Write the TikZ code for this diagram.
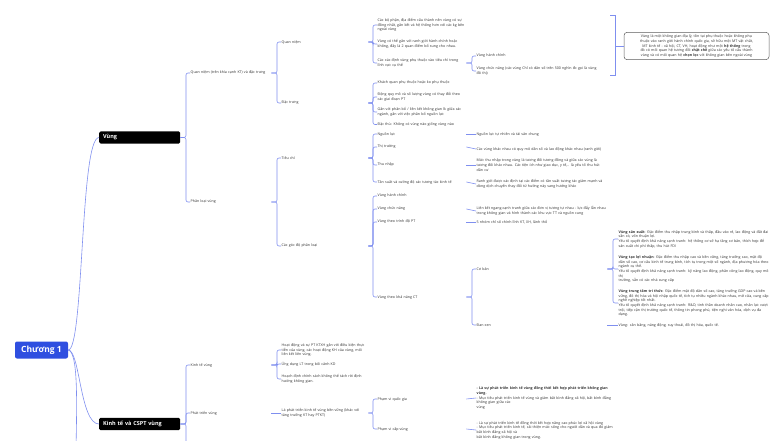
\documentclass[tikz,border=0pt]{standalone}
\usepackage{fontspec}
\setmainfont{Open Sans}
\usetikzlibrary{calc}
\definecolor{lnk}{HTML}{7F8FEF}
\definecolor{txc}{HTML}{333333}
\definecolor{chblue}{HTML}{2F4FE0}
\begin{document}
\begin{tikzpicture}[x=1pt,y=-1pt,
  t/.style={anchor=west,inner sep=0.5pt,align=left,text=txc,font=\fontsize{3.6}{4.6}\selectfont},
  tw/.style={t,text width=#1},
  br/.style={draw=lnk,line width=0.6pt,rounded corners=2pt},
  hd/.style={anchor=west,fill=black,rounded corners=1.5pt,text=white,minimum height=11pt,text width=73pt,inner xsep=4pt,font=\fontsize{5.5}{6}\selectfont\bfseries}]
\useasboundingbox (0,0) rectangle (784,441);
% root
\node[fill=chblue,rounded corners=2pt,text=white,minimum width=53pt,minimum height=17pt,inner sep=0pt,font=\fontsize{8.5}{9}\selectfont\bfseries] (ch) at (41.5,350) {Chương 1};
\node[hd] (vung) at (99,137.5) {Vùng};
\node[hd] (kt) at (99,424) {Kinh tế và CSPT vùng};
\coordinate (off1) at (76,448);
\draw[br] (ch.east) .. controls (84,350) and (80,137.5) .. (vung.west);
\draw[br] (ch.east) .. controls (80,350) and (80,424) .. (kt.west);
\draw[br] (ch.east) .. controls (78,352) and (77,400) .. (off1);
% level 2
\node[tw=80pt] (qn) at (190,73) {Quan niệm (trên khía cạnh KT) và đặc trưng};
\node[tw=80pt] (pl) at (190,202) {Phân loại vùng};
\node[tw=80pt] (ktv) at (190,365) {Kinh tế vùng};
\node[tw=80pt] (ptv) at (190,413) {Phát triển vùng};
\coordinate (off2) at (190,460);
\foreach \c in {qn,pl} \draw[br] (\c.west) -- ++(-4,0) |- (vung.east);
\foreach \c in {ktv,ptv} \draw[br] (\c.west) -- ++(-4,0) |- (kt.east);
\draw[br] (off2) -- ++(-4,0) |- (kt.east);
% level 3
\node[tw=86pt] (qnm) at (281,42) {Quan niệm};
\node[tw=86pt] (dt) at (281,103) {Đặc trưng};
\node[tw=86pt] (tc) at (281,158) {Tiêu chí};
\node[tw=86pt] (gd) at (281,246) {Các góc độ phân loại};
\foreach \c in {qnm,dt} \draw[br] (\c.west) -- ++(-4,0) |- (qn.east);
\foreach \c in {tc,gd} \draw[br] (\c.west) -- ++(-4,0) |- (pl.east);
\node[tw=86pt] (k1) at (281,350) {Hoạt động và sự PT KTXH gắn với điều kiện thực tiễn của vùng, các hoạt động KH của vùng, mối liên kết liên vùng.};
\node[tw=86pt] (k2) at (281,364) {Ứng dụng LT trong bối cảnh KD};
\node[tw=86pt] (k3) at (281,379) {Hoạch định chính sách không thể tách rời định hướng không gian.};
\foreach \c in {k1,k2,k3} \draw[br] (\c.west) -- ++(-4,0) |- (ktv.east);
\node[tw=86pt] (p1) at (281,413) {Là phát triển kinh tế vùng bền vững (khác với tăng trưởng KT hay PTKT)};
\draw[br] (ptv.east) -- (p1.west);
% level 4
\node[tw=88pt] (q1) at (377,25) {Các bộ phận, địa điểm cấu thành nên vùng có sự đồng nhất, gắn kết và hệ thống hơn với các kg bên ngoài vùng};
\node[tw=88pt] (q2) at (377,44) {Vùng có thể gắn với ranh giới hành chính hoặc không, đây là 2 quan điểm bổ sung cho nhau.};
\node[tw=88pt] (q3) at (377,63) {Các xác định vùng phụ thuộc vào tiêu chí trong lĩnh vực cụ thể};
\foreach \c in {q1,q2,q3} \draw[br] (\c.west) -- ++(-4,0) |- (qnm.east);
\node[tw=88pt] (d1) at (377,83) {Khách quan phụ thuộc hoặc ko phụ thuộc};
\node[tw=88pt] (d2) at (377,97) {Động quy mô và số lượng vùng có thay đổi theo các giai đoạn PT};
\node[tw=88pt] (d3) at (377,112) {Gắn với phân bổ / liên kết không gian lk giữa các ngành, gắn với việc phân bổ nguồn lực};
\node[tw=88pt] (d4) at (377,124.5) {Đặc thù: Không có vùng nào giống vùng nào};
\foreach \c in {d1,d2,d3,d4} \draw[br] (\c.west) -- ++(-4,0) |- (dt.east);
\node[tw=88pt] (t1) at (377,134) {Nguồn lực};
\node[tw=88pt] (t2) at (377,147) {Thị trường};
\node[tw=88pt] (t3) at (377,165) {Thu nhập};
\node[tw=88pt] (t4) at (377,182) {Tần suất và cường độ các tương tác kinh tế};
\foreach \c in {t1,t2,t3,t4} \draw[br] (\c.west) -- ++(-4,0) |- (tc.east);
\node[tw=88pt] (g1) at (377,196) {Vùng hành chính};
\node[tw=88pt] (g2) at (377,209) {Vùng chức năng};
\node[tw=88pt] (g3) at (377,222) {Vùng theo trình độ PT};
\node[tw=88pt] (g4) at (377,297) {Vùng theo khả năng CT};
\foreach \c in {g1,g2,g3,g4} \draw[br] (\c.west) -- ++(-4,0) |- (gd.east);
\node[tw=88pt] (pq) at (377,399) {Phạm vi quốc gia};
\node[tw=88pt] (pv) at (377,429) {Phạm vi cấp vùng};
\foreach \c in {pq,pv} \draw[br] (\c.west) -- ++(-4,0) |- (p1.east);
% level 5
\node[tw=125pt] (v1) at (476,56) {Vùng hành chính};
\node[tw=125pt] (v2) at (476,71) {Vùng chức năng (các vùng Chỉ có dân số trên 500 nghìn đc gọi là vùng đô thị)};
\foreach \c in {v1,v2} \draw[br] (\c.west) -- ++(-4,0) |- (q3.east);
\node[tw=130pt] (l1) at (476,134) {Nguồn lực tự nhiên và tài sản chung};
\node[tw=130pt] (l2) at (476,149) {Các vùng khác nhau có quy mô dân số và lao động khác nhau (ranh giới)};
\node[tw=130pt] (l3) at (476,165) {Mức thu nhập trong vùng là tương đối tương đồng và giữa các vùng là tương đối khác nhau. Các tiện ích như giao dục, y tế,.. là yếu tố thu hút dân cư};
\node[tw=130pt] (l4) at (476,184) {Ranh giới được xác định tại các điểm có tần suất tương tác giảm mạnh và dòng dịch chuyển thay đổi từ hướng này sang hướng khác};
\draw[br] (t1.east) -- (l1.west);
\draw[br] (t2.east) -- (l2.west);
\draw[br] (t3.east) -- (l3.west);
\draw[br] (t4.east) -- (l4.west);
\node[tw=130pt] (l5) at (476,211) {Liên kết ngang-cạnh tranh giữa các đơn vị tương tự nhau - lực đẩy lẫn nhau trong không gian và hình thành các khu vực TT và nguồn cung};
\node[tw=130pt] (l6) at (476,222) {5 nhóm chỉ số chính lĩnh KT, XH, lãnh thổ};
\draw[br] (g2.east) -- (l5.west);
\draw[br] (g3.east) -- (l6.west);
\node[tw=130pt] (cb) at (476,269) {Cơ bản};
\node[tw=130pt] (dx) at (476,325) {Đan xen};
\foreach \c in {cb,dx} \draw[br] (\c.west) -- ++(-4,0) |- (g4.east);
\node[tw=140pt] (ppq) at (476,398) {\textbf{- Là sự phát triển kinh tế vùng đồng thời kết hợp phát triển không gian vùng.}\\- Mục tiêu phát triển kinh tế vùng và giảm bất bình đẳng xã hội, bất bình đẳng không gian giữa các\\vùng};
\node[tw=140pt] (ppv) at (476,430) {- Là sự phát triển kinh tế đồng thời kết hợp nâng cao phúc lợi xã hội vùng\\- Mục tiêu phát triển kinh tế, cải thiện mức sống cho người dân và qua đó giảm bất bình đẳng xã hội và\\bất bình đẳng không gian trong vùng.};
\draw[br] (pq.east) -- (ppq.west);
\draw[br] (pv.east) -- (ppv.west);
% level 6
\node[tw=150pt] (cb1) at (618,239) {\textbf{Vùng sản xuất}: Đặc điểm thu nhập trung bình và thấp, đầu vào rẻ, lao động và đất đai sẵn có, vốn thuận lợi.\\Yếu tố quyết định khả năng cạnh tranh: hệ thống cơ sở hạ tầng cơ bản, thích hợp để sản xuất chi phí thấp, thu hút FDI};
\node[tw=150pt] (cb2) at (618,269) {\textbf{Vùng tạo lợi nhuận}: Đặc điểm thu nhập cao và bền vững, tăng trưởng cao, mật độ dân số cao, cơ cấu kinh tế trung bình, tích tụ trong một số ngành, địa phương hóa theo ngành cụ thể.\\Yếu tố quyết định khả năng cạnh tranh: kỹ năng lao động, phân công lao động, quy mô thị\\trường, sẵn có các nhà cung cấp};
\node[tw=150pt] (cb3) at (618,303) {\textbf{Vùng trung tâm tri thức}: Đặc điểm mật độ dân số cao, tăng trưởng GDP cao và bền vững, đô thị hóa và hội nhập quốc tế, tích tụ nhiều ngành khác nhau, mở cửa, cung cấp nghề nghiệp tốt nhất.\\Yếu tố quyết định khả năng cạnh tranh: R\&D, tinh thần doanh nhân cao, nhân lực vượt trội, tiếp cận thị trường quốc tế, thông tin phong phú, tiện nghi văn hóa, dịch vụ đa dạng.};
\foreach \c in {cb1,cb2,cb3} \draw[br] (\c.west) -- ++(-5,0) |- (cb.east);
\node[tw=150pt] (dx1) at (618,325) {Vùng: cân bằng, năng động, suy thoái, đô thị hóa, quốc tế.};
\draw[br] (dx.east) -- (dx1.west);
% summary
\node[draw=txc!80,line width=0.5pt,rounded corners=3pt,text width=140pt,align=center,inner sep=2.5pt,text=txc,font=\fontsize{3.6}{4.6}\selectfont] (sum) at (696.5,46) {Vùng là một không gian địa lý, tồn tại phụ thuộc hoặc không phụ thuộc vào ranh giới hành chính quốc gia, sở hữu một MT vật chất, MT kinh tế - xã hội, CT, VH, hoạt động như một \textbf{hệ thống} trong đó có mối quan hệ tương đối \textbf{chặt chẽ} giữa các yếu tố cấu thành vùng và có mối quan hệ \textbf{chọn lọc} với không gian bên ngoài vùng};
\coordinate (sa) at (610,15);
\coordinate (sb) at (610,75);
\coordinate (sm) at (615,46);
\draw[br,rounded corners=0pt] (sa) -- ++(5,0) -- ($(sb)+(5,0)$) -- (sb);
\draw[br] (sm) -- (sum.west);
\end{tikzpicture}
\end{document}
